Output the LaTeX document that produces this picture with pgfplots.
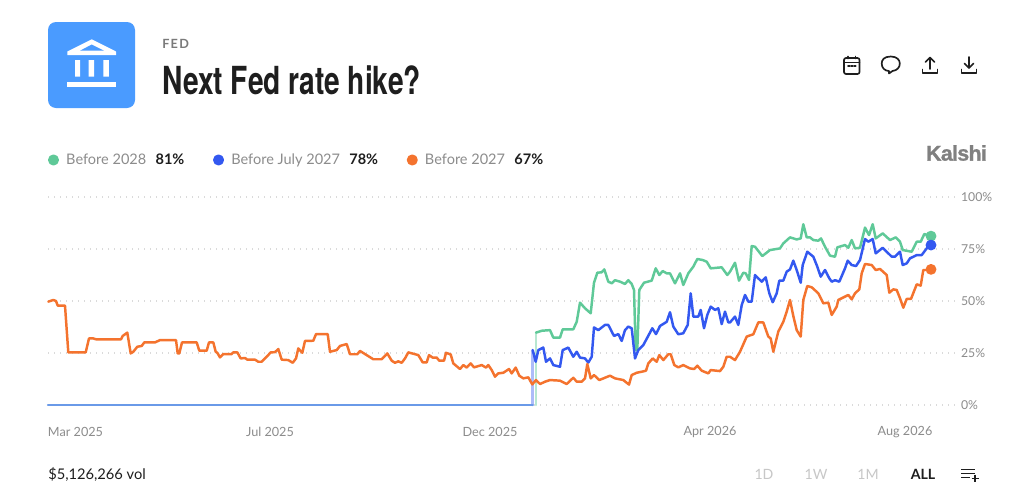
\documentclass[border=0pt]{standalone}
\usepackage{fontspec}
\usepackage{pgfplots}
\pgfplotsset{compat=1.18}
\setmainfont{Lato}
\newfontfamily\titlefont[FakeStretch=0.727]{TeX Gyre Heros}
\newfontfamily\logofont{Liberation Sans}
\definecolor{cgreen}{HTML}{5FC998}
\definecolor{cblue}{HTML}{3358F0}
\definecolor{corange}{HTML}{F4732E}
\definecolor{ctile}{HTML}{4A9BFF}
\definecolor{ctext}{HTML}{1E1E1E}
\definecolor{cgrey}{HTML}{8C8C8C}
\definecolor{cgrid}{HTML}{DADADA}
\begin{document}
\begin{tikzpicture}
\path[use as bounding box, fill=white] (0pt,0pt) rectangle (768pt,-369.75pt);
\begin{axis}[
    at={(36pt,-303.75pt)}, anchor=south west,
    scale only axis, width=681.75pt, height=156pt,
    xmin=48, xmax=957, ymin=0, ymax=100,
    clip=false,
    axis line style={draw=none},
    major tick length=0pt,
    ytick={0,25,50,75,100},
    yticklabels={0\%,25\%,50\%,75\%,100\%},
    yticklabel pos=right,
    xtick={75.5,270,490,710,905},
    xticklabels={Mar 2025,Jul 2025,Dec 2025,Apr 2026,Aug 2026},
    ymajorgrids,
    grid style={cgrid, line width=0.8pt, dash pattern=on 1.1pt off 3.4pt},
    y tick label style={font=\fontsize{9.2}{11}\selectfont, text=cgrey, anchor=west, xshift=-0.5pt},
    x tick label style={font=\fontsize{9.5}{11}\selectfont, text=cgrey, yshift=-20pt, anchor=center},
    legend style={draw=none, fill=none, at={(0,1.178)}, anchor=west, inner sep=0pt, outer sep=0pt,
        font=\fontsize{10.9}{12}\selectfont, legend columns=3,
        /tikz/every odd column/.style={column sep=3.4pt},
        /tikz/every even column/.style={column sep=19.5pt}},
    legend cell align=left,
    every axis plot/.append style={line width=1.85pt, line join=round, line cap=round},
]
% pre-listing stretches, drawn faded
\addplot[forget plot, cgreen!45] coordinates {(536,0) (536,34.8)};
\addplot[forget plot, cblue!40] coordinates {(532.7,0) (532.7,26.4)};
\addplot[forget plot, color={rgb,255:red,106;green,154;blue,232}] coordinates {(48,0) (532.7,0)};
% Before 2028
\addplot[cgreen, legend image code/.code={\fill[cgreen] (5pt,0pt) circle (3.2pt);}] coordinates {
(536,34.8)(541.7,35.7)(550,36)(553.3,32.4)(560,32.4)(562.7,36.4)(573.3,36.4)(576.7,40)(580,49.2)(585,46.5)
(590.7,44.1)(594,58.8)(597.3,63.6)(601.7,63.8)(604.3,65.2)(608.3,59.3)(611.7,58.5)(615,60)(620,59.3)(625,58.2)
(628.3,60)(631.7,58.2)(634,55.3)(635.7,26.4)(637.3,26.4)(639.3,55.3)(644,58.8)(651.7,59.8)(655.7,65.7)(659.3,62.5)
(662.7,64.4)(666.7,63.3)(670,63.3)(675,58.5)(680,63.3)(683.3,57.7)(688.3,63.3)(693.3,66.5)(697.3,70.2)(702.7,69.7)
(706.7,68.9)(710.7,65.7)(721.7,66.2)(727.3,62.5)(730,64.1)(735,68.4)(739,59.8)(743.3,63.6)(745.7,63.3)(749,60.1)
(751.7,76.4)(755,76.1)(762.3,71.6)(770,74.5)(780,75.3)(783.3,77.7)(790,80.6)(796.7,79.6)(800.7,80.1)(803.3,86.9)
(806.7,80.6)(810,80.6)(813.3,79.3)(818.3,79)(821,80.1)(825,76.1)(830,71.8)(835,71.3)(837.3,75.8)(845,76.9)
(848.3,75.6)(851.7,79.3)(855,75.3)(860,75.6)(865,85.3)(869,81.7)(872.7,86.9)(875.7,80.1)(882.7,82.5)(890,79.3)
(895.7,80.6)(900,78.5)(902.7,74.5)(911.7,73.7)(916.7,78.5)(920.7,78.5)(924.3,82.2)(931,81.2)};
\addlegendentry{\textcolor{cgrey}{Before 2028}\hspace{7pt}\textcolor{ctext}{\bfseries 81\%}}
% Before July 2027
\addplot[cblue, legend image code/.code={\fill[cblue] (5pt,0pt) circle (3.2pt);}] coordinates {
(532.7,26.4)(535.7,20.8)(538.3,26.4)(543.3,27.6)(546,20.8)(550,22.4)(553.3,19.2)(560,18.4)(562.7,26.4)(568.3,27.6)
(573.3,23.2)(576.7,25.6)(580,22.8)(585,22.4)(588.3,20.4)(591.7,23.2)(594,37.3)(598.3,36)(605,38.5)(608.3,38.5)
(614,33.2)(618.3,34.1)(621.7,30.8)(625,36)(628.3,37.7)(631.7,36.9)(635,22.4)(638.3,26.4)(643.3,28.8)(652.3,36.9)
(656,34.1)(660,38)(666.7,40)(670,44.6)(673.3,37.7)(678.3,34)(683.3,34.5)(687.7,38.5)(690.7,53.7)(693.3,42.5)
(698.3,42.5)(700.7,45.7)(704,36.9)(707.3,43.3)(710.7,47.3)(715,45.7)(718.3,46.5)(721.7,38.9)(725,44.9)(728.3,39.7)
(730,39.7)(735,42.5)(738.3,38.5)(741.7,48)(745,52.9)(748.3,49.7)(751.7,49.7)(755,62.5)(758.3,60.9)(761.7,59.3)
(765.7,61.4)(769.3,53.7)(772.7,49.4)(776.7,53.7)(779.3,59.8)(783.3,59.8)(786.7,64.1)(790,65.2)(793.3,69.4)(796.7,64.9)
(800.7,58.8)(802.7,67.3)(807.3,73.7)(813.3,71.3)(817.3,66.5)(820.7,61.7)(825,64.9)(829.3,60.9)(831.7,59.3)(835,60)
(839.3,59.3)(845,65.7)(847.7,69.4)(851.7,67.3)(856,66.8)(860,69.7)(865,79.8)(868.3,78.5)(872.7,79.8)(875.7,72.9)
(882.7,75.6)(891.7,71.3)(895,71.3)(900,73.7)(902.7,67.3)(906.7,68.1)(910,70.5)(916.7,72.1)(921.7,72.1)(926.7,75.3)(931,76.9)};
\addlegendentry{\textcolor{cgrey}{Before July 2027}\hspace{7pt}\textcolor{ctext}{\bfseries 78\%}}
% Before 2027
\addplot[corange, legend image code/.code={\fill[corange] (5pt,0pt) circle (3.2pt);}] coordinates {
(48.3,49.7)(53.3,50.5)(56,50)(57.7,47.8)(65,47.8)(68.3,25.3)(85.7,25.3)(89,32)(93.3,32)(96,31.6)
(121,31.6)(122.7,33.2)(127.3,34.8)(130.7,24.8)(133.3,25.6)(137.3,28)(141.7,28.4)(144.3,30.1)(155,30.1)(160,31.2)
(176,31.2)(177.7,24.8)(179.3,24.8)(182,30.1)(196.7,30.1)(199.3,26.1)(206.7,26.1)(209,30.1)(213.3,30.1)(215.7,25.6)
(217.3,25.1)(220,22.9)(223.3,24.5)(231.7,24.5)(233.3,25.3)(237.3,25.3)(240.7,22.4)(245,22.6)(247.3,21.8)(255,21.8)
(258.3,20.8)(261.7,20.8)(266.7,23.2)(270.7,25.3)(275,25.4)(278.3,26.9)(281.7,21.8)(288.3,21.6)(292.7,20.3)(296,22.4)
(298.3,27.2)(302.3,25.1)(305,30.8)(313.3,30.9)(316,34.1)(327.7,34.1)(330,25.6)(336.7,26.4)(340,28.4)(346.7,29.3)
(350,24.4)(357.3,24.4)(360,26)(373.3,22)(381.7,22)(387.3,24.8)(391.7,21.3)(395,20.3)(398.3,21)(401.7,20.3)
(405,22.4)(408.3,25.3)(418.3,24)(422.7,20.5)(426.7,20.5)(429,24)(432.7,22.8)(436.7,22.8)(439.3,21.3)(444,21.3)
(446,25.1)(450.7,24.3)(453.3,20)(460,17.3)(463.3,19.2)(466.7,18)(470.7,20)(474,18.1)(481.7,19.2)(486,18)
(488.3,19.2)(491.7,16.8)(495,13.6)(498.3,15.2)(503.3,15.5)(509,17.3)(511.7,15.2)(515.7,18)(519.3,14.1)(523.3,12.8)
(528.3,13.3)(532.3,9.9)(536,12)(540,10.1)(545,11.2)(550,12)(560,11.7)(566.7,10.1)(573.3,13.1)(576.7,11.2)
(581.7,11.2)(585,12.8)(587.3,19.7)(590.7,12.8)(594,14.4)(599.3,12)(610,14.1)(615,12.8)(623.3,12)(629,9.8)
(631.7,14.4)(636.7,15.5)(641.7,16)(646,16.5)(648.3,20)(652.7,22.4)(656.7,20.8)(659.3,24)(663.3,21.6)(668.3,24.4)
(670.7,24.4)(674.3,19.2)(678.3,18.1)(683.3,19.2)(690,17.6)(694,17.3)(697.3,18.9)(701.7,16.5)(708.3,15.2)(710.7,16.8)
(720,16.3)(723.3,18.4)(726.7,23.2)(730,23.2)(735,21.6)(740,25.6)(746.7,32.9)(753.3,34)(758.3,39.7)(763.3,39.7)
(768.3,32.9)(770.7,32)(773.3,25.6)(778.3,35.3)(783.3,40)(786.7,44.9)(790,50.5)(793.3,42.8)(796.7,36)(800.7,32.9)
(803.3,50.5)(807.3,57.2)(811.7,56.6)(818.3,53.7)(823.3,48.9)(828.3,49.2)(831.7,43.3)(836.7,47.3)(838.3,50.5)(848.3,52.9)
(851.7,50.8)(855,53.7)(859.3,55.6)(861.7,63.3)(865,67.8)(871.7,67.3)(875.7,64.9)(880,65.4)(886.7,62.5)(889.3,54)
(893.3,55.6)(896.7,55.3)(900,51.3)(903.3,46.8)(906.7,51)(911,51)(916.7,58)(920.7,57.4)(923.3,64.9)(926.7,64.9)(931,65.2)};
\addlegendentry{\textcolor{cgrey}{Before 2027}\hspace{7pt}\textcolor{ctext}{\bfseries 67\%}}
% end-of-series dots
\addplot[forget plot, only marks, mark=*, mark size=3.1pt, cgreen, mark options={draw=none, fill=cgreen}] coordinates {(931,81.2)};
\addplot[forget plot, only marks, mark=*, mark size=3.1pt, cblue, mark options={draw=none, fill=cblue}] coordinates {(931,76.9)};
\addplot[forget plot, only marks, mark=*, mark size=3.1pt, corange, mark options={draw=none, fill=corange}] coordinates {(931,65.2)};
\end{axis}
\begin{scope}[x=0.75pt, y=-0.75pt]
% bank tile
\fill[ctile, rounded corners=6pt] (48,22) rectangle (135,108);
\fill[white] (67.3,55) -- (67.3,51.5) -- (91.7,39.3) -- (116,51.5) -- (116,55) -- cycle;
\fill[ctile] (80,50.7) -- (91.7,44.5) -- (104,50.7) -- cycle;
\fill[white] (75,60) rectangle (80,76.7) (88.6,60) rectangle (94,76.7) (103.3,60) rectangle (108.8,76.7);
\fill[white] (67.3,81.7) rectangle (116,86.7);
% heading
\node[anchor=west, inner sep=0pt, text=black!52, font=\fontsize{9.5}{11}\selectfont\bfseries\addfontfeature{LetterSpace=10}] at (162,43.5) {FED};
\node[anchor=west, inner sep=0pt, text=ctext, font=\titlefont\bfseries\fontsize{29}{32}\selectfont] at (162,80) {Next Fed rate hike?};
% top right icons
\begin{scope}[ctext, line width=1.25pt, line cap=round, line join=round]
\draw[rounded corners=1.5pt] (844,58) rectangle (859.5,74);
\draw (844,62.5) -- (859.5,62.5) (848,56.5) -- (848,58.5) (855.5,56.5) -- (855.5,58.5);
\draw[densely dotted] (848,66) -- (856,66);
\draw (890.7,56.5) .. controls (884,56.5) and (881.7,60) .. (881.7,63.5) .. controls (881.7,68) and (885,71) .. (889,71) -- (889,73.5) -- (892.5,71) .. controls (897,70.5) and (899.8,67.5) .. (899.8,63.5) .. controls (899.8,60) and (897,56.5) .. (890.7,56.5) -- cycle;
\draw (930,69) -- (930,58) (925.5,62) -- (930,57.5) -- (934.5,62);
\draw (922.5,69.5) -- (922.5,73) -- (937.5,73) -- (937.5,69.5);
\draw (969,57) -- (969,68) (964.5,63.5) -- (969,68) -- (973.5,63.5);
\draw (961.5,69.5) -- (961.5,73) -- (976.5,73) -- (976.5,69.5);
\end{scope}
% brand
\node[anchor=center, inner sep=0pt, text=black!50, font=\logofont\bfseries\fontsize{16}{18}\selectfont\addfontfeature{FakeBold=1.2,LetterSpace=-3}] at (956.5,153) {Kalshi};
% footer
\node[anchor=west, inner sep=0pt, text=ctext, font=\fontsize{11}{12}\selectfont] at (48,474.5) {\$5,126,266 vol};
\node[inner sep=0pt, text=black!22, font=\fontsize{10.6}{12}\selectfont] at (764,474.5) {1D};
\node[inner sep=0pt, text=black!22, font=\fontsize{10.6}{12}\selectfont] at (816,474.5) {1W};
\node[inner sep=0pt, text=black!22, font=\fontsize{10.6}{12}\selectfont] at (868,474.5) {1M};
\node[inner sep=0pt, text=ctext, font=\fontsize{10.6}{12}\selectfont\bfseries] at (923,474.5) {ALL};
\draw[ctext, line width=1.1pt] (961,469.5) -- (975,469.5) (961,473.5) -- (975,473.5) (961,477.5) -- (970,477.5) (971.5,478.5) -- (979,478.5) (975.2,474.7) -- (975.2,482);
\end{scope}
\end{tikzpicture}
\end{document}
